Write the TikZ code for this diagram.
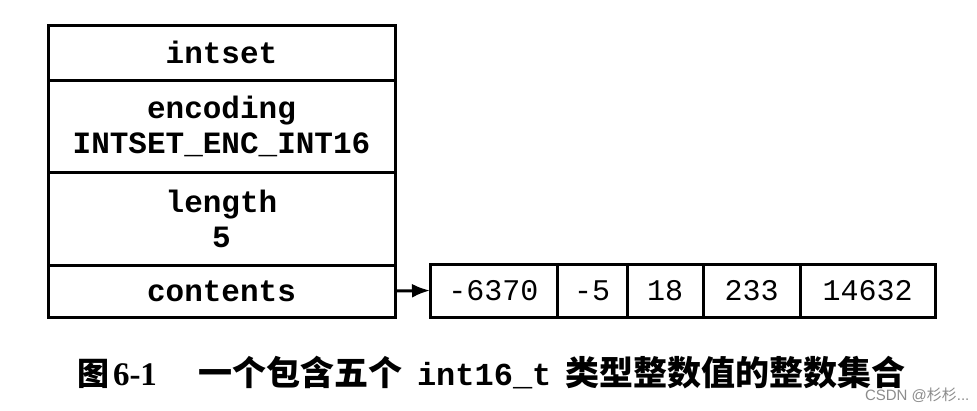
\documentclass[tikz,border=0pt]{standalone}
\usepackage{fontspec}
\setmainfont{Liberation Serif}
\setmonofont{Liberation Mono}
\newfontfamily\cjk{Noto Sans CJK SC}
\newfontfamily\wmfont{Liberation Sans}
\newfontfamily\wmcjk{Noto Sans CJK SC}
\usetikzlibrary{arrows.meta}
\begin{document}
\begin{tikzpicture}[x=1pt,y=-1pt,
  field/.style={draw=black,line width=3pt,minimum width=347pt,inner sep=0pt,outer sep=0pt,align=center,
    font=\fontsize{31}{35}\selectfont\ttfamily\bfseries},
  cell/.style={draw=black,line width=3pt,minimum height=53pt,inner sep=0pt,outer sep=0pt,
    font=\fontsize{30}{34}\selectfont\ttfamily},
  captxt/.style={anchor=base west,inner sep=0pt,outer sep=0pt},
  link/.style={line width=3pt,-{Latex[length=18pt,width=14pt]}}
]
\useasboundingbox (0,0) rectangle (977,410);
\fill[white] (0,0) rectangle (977,410);

\node[field,minimum height=55pt] (intset) at (221.5,52.5) {intset};
\node[field,minimum height=92pt] (enc) at (221.5,126) {encoding\\INTSET\_ENC\_INT16};
\node[field,minimum height=93pt] (len) at (221.5,218.5) {length\\5};
\node[field,minimum height=52pt] (cont) at (221.5,291) {contents};

\node[cell,minimum width=127pt] (c1) at (493.5,290.5) {-6370};
\node[cell,minimum width=70pt] (c2) at (592,290.5) {-5};
\node[cell,minimum width=76pt] (c3) at (665,290.5) {18};
\node[cell,minimum width=97pt] (c4) at (751.5,290.5) {233};
\node[cell,minimum width=135pt] (c5) at (867.5,290.5) {14632};

\draw[link] (cont.east) -- (c1.west);

\node[captxt,font=\fontsize{32}{34}\selectfont\cjk\bfseries] (t1) at (77,385) {图};
\node[captxt,font=\fontsize{33}{34}\selectfont\rmfamily\bfseries] (t2) at (113,385) {6-1};
\node[captxt,font=\fontsize{34}{34}\selectfont\cjk\bfseries] (t3) at (198,385) {一个包含五个};
\node[captxt,font=\fontsize{32}{34}\selectfont\ttfamily\bfseries] (t4) at (417,385) {int16\_t};
\node[captxt,font=\fontsize{34}{34}\selectfont\cjk\bfseries] (t5) at (565,385) {类型整数值的整数集合};
\node[captxt,font=\fontsize{15}{16}\selectfont\wmfont,text=black!45] (wm) at (865,400) {CSDN @{\wmcjk 杉杉}...};
\end{tikzpicture}
\end{document}
